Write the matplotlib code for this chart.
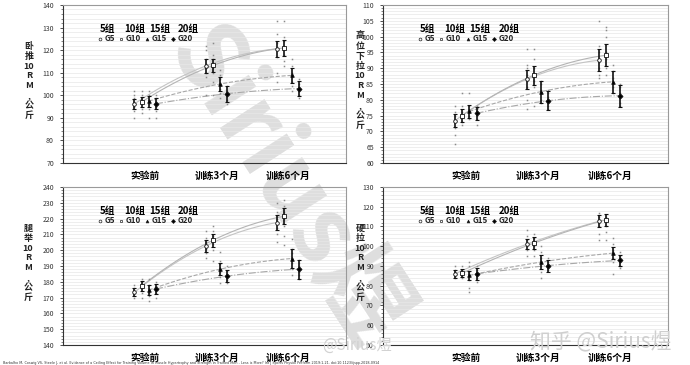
import numpy as np
import matplotlib
matplotlib.use("Agg")
import matplotlib.pyplot as plt
from matplotlib.ticker import MultipleLocator

plt.rcParams['font.family'] = ['Noto Sans CJK SC', 'DejaVu Sans']

categories = ["实验前", "训练3个月", "训练6个月"]
groups = ["G5", "G10", "G15", "G20"]
group_titles = ["5组", "10组", "15组", "20组"]

# ---- Panel 1: 卧推 (bench press) ----
bench_means = {"G5": [96.2, 113.0, 120.6], "G10": [97.0, 113.2, 121.0],
               "G15": [97.4, 105.0, 108.8], "G20": [96.2, 100.7, 103.0]}
bench_err = {"G5": [2.3, 3.0, 3.5], "G10": [2.3, 3.0, 3.5],
             "G15": [2.5, 3.0, 3.5], "G20": [2.5, 3.5, 3.5]}
bench_ind = {
    "G5": [[90, 93, 95, 97, 99, 100, 102], [100, 108, 110, 112, 114, 116, 120, 122], [106, 110, 117, 120, 123, 127, 133]],
    "G10": [[92, 94, 96, 98, 100, 102], [100, 106, 110, 112, 114, 116, 118, 123], [113, 115, 118, 121, 124, 126, 133]],
    "G15": [[90, 94, 96, 98, 100, 102], [99, 101, 103, 105, 107, 109, 111], [102, 104, 106, 108, 110, 113, 116]],
    "G20": [[90, 93, 95, 97, 99, 100], [96, 98, 100, 101, 102, 104], [99, 100, 102, 103, 105, 107]],
}

# ---- Panel 2: 高位下拉 (lat pulldown) ----
pull_means = {"G5": [73.4, 86.5, 92.5], "G10": [75.0, 87.8, 94.1],
              "G15": [76.3, 82.6, 85.7], "G20": [75.7, 79.7, 81.3]}
pull_err = {"G5": [2.0, 3.0, 3.5], "G10": [2.0, 3.0, 3.5],
            "G15": [2.0, 3.5, 3.5], "G20": [2.0, 3.0, 3.5]}
pull_ind = {
    "G5": [[66, 69, 71, 73, 75, 76, 78], [77, 80, 84, 86, 88, 90, 91, 96], [87, 88, 90, 92, 95, 97, 105]],
    "G10": [[72, 73, 75, 76, 78, 82], [78, 84, 86, 88, 90, 93, 96], [88, 90, 93, 95, 100, 102, 103]],
    "G15": [[74, 75, 76, 77, 78, 82], [79, 80, 82, 83, 85, 86], [82, 84, 85, 87, 89, 91]],
    "G20": [[72, 74, 75, 77, 78], [77, 78, 79, 81, 82, 83], [78, 79, 81, 82, 84, 85]],
}

# ---- Panel 3: 腿举 (leg press) ----
leg_means = {"G5": [173.3, 202.7, 217.5], "G10": [177.3, 206.3, 221.5],
             "G15": [174.7, 188.0, 194.7], "G20": [175.4, 183.6, 188.0]}
leg_err = {"G5": [2.5, 4.0, 5.0], "G10": [3.0, 4.0, 5.0],
           "G15": [3.0, 4.0, 6.0], "G20": [3.0, 4.0, 6.0]}
leg_ind = {
    "G5": [[170, 172, 174, 176, 178], [195, 198, 201, 203, 205, 208, 212], [205, 210, 214, 217, 220, 224, 230]],
    "G10": [[170, 173, 176, 178, 180, 182], [193, 200, 204, 207, 209, 212, 215], [203, 209, 215, 220, 224, 228, 232]],
    "G15": [[168, 171, 173, 175, 178, 182], [179, 183, 186, 188, 191, 193, 199], [184, 188, 192, 195, 198, 201, 207]],
    "G20": [[170, 173, 175, 177, 180], [179, 181, 183, 185, 187, 190], [182, 184, 186, 188, 190, 192, 194]],
}

# ---- Panel 4: 硬拉 (deadlift) ----
dl_means = {"G5": [86.0, 101.0, 112.6], "G10": [86.3, 101.6, 113.4],
            "G15": [85.2, 92.0, 96.5], "G20": [86.0, 90.2, 92.8]}
dl_err = {"G5": [2.0, 2.5, 3.0], "G10": [2.0, 3.0, 3.0],
          "G15": [2.5, 3.5, 3.0], "G20": [3.0, 3.0, 3.0]}
dl_ind = {
    "G5": [[84, 85, 86, 87, 88, 90], [95, 98, 100, 101, 103, 105, 108], [103, 106, 110, 112, 115, 117]],
    "G10": [[84, 85, 86, 87, 88, 90], [95, 98, 100, 102, 104, 106], [103, 107, 110, 113, 115]],
    "G15": [[77, 79, 83, 85, 87, 90, 92], [84, 87, 90, 92, 94, 97, 100], [86, 92, 94, 96, 98, 101, 104]],
    "G20": [[82, 84, 86, 88, 90], [88, 89, 90, 91, 92, 94], [89, 90, 92, 93, 95, 97]],
}

panels = [
    dict(label=["卧", "推", "10", "R", "M", ",", "公", "斤"], means=bench_means, err=bench_err, ind=bench_ind,
         ylim=(70, 140), major=10, rect=[0.0913, 0.5534, 0.410, 0.433], lx=29),
    dict(label=["高", "位", "下", "拉", "10", "R", "M", ",", "公", "斤"], means=pull_means, err=pull_err, ind=pull_ind,
         ylim=(60, 110), major=5, rect=[0.555, 0.5534, 0.413, 0.433], lx=360),
    dict(label=["腿", "举", "10", "R", "M", ",", "公", "斤"], means=leg_means, err=leg_err, ind=leg_ind,
         ylim=(140, 240), major=10, rect=[0.0913, 0.0548, 0.410, 0.433], lx=28),
    dict(label=["硬", "拉", "10", "R", "M", ",", "公", "斤"], means=dl_means, err=dl_err, ind=dl_ind,
         ylim=(50, 130), major=10, rect=[0.555, 0.0548, 0.413, 0.433], lx=360),
]

offsets = {"G5": -0.15, "G10": -0.05, "G15": 0.05, "G20": 0.15}
markers = {"G5": ("o", "white"), "G10": ("s", "white"), "G15": ("^", "black"), "G20": ("D", "black")}
linestyles = {"G5": ("-", "#c4c4c4"), "G10": ("-", "#b4b4b4"), "G15": ("--", "#a8a8a8"), "G20": ("-.", "#a8a8a8")}

W, H = 690, 365
fig = plt.figure(figsize=(W / 100, H / 100), dpi=100)

for p in panels:
    ax = fig.add_axes(p["rect"])
    ax.patch.set_alpha(0.0)
    xc = np.arange(len(categories))
    for g in groups:
        xs = xc + offsets[g]
        m = np.array(p["means"][g])
        coef = np.polyfit(xs, m, 2)
        xx = np.linspace(xs[0], xs[-1], 60)
        ls, lc = linestyles[g]
        ax.plot(xx, np.polyval(coef, xx), ls=ls, color=lc, lw=0.8, zorder=2)
        for i in range(len(categories)):
            vals = p["ind"][g][i]
            ax.plot([xs[i]] * len(vals), vals, ls="none", marker="s", ms=1.1,
                    color="#8a8a8a", mec="none", zorder=3)
        mk, fc = markers[g]
        ax.errorbar(xs, m, yerr=p["err"][g], fmt="none", ecolor="#111111",
                    elinewidth=1.2, capsize=1.5, capthick=0.8, zorder=4)
        ax.plot(xs, m, ls="none", marker=mk, ms=2.6, mfc=fc, mec="#111111", mew=0.6, zorder=5)

    ax.set_xlim(-1.15, 2.81)
    ax.set_ylim(*p["ylim"])
    ax.set_xticks(xc)
    ax.set_xticklabels(categories, fontsize=7, fontweight="bold")
    ax.tick_params(axis="x", length=0, pad=6)
    ax.yaxis.set_major_locator(MultipleLocator(p["major"]))
    ax.yaxis.set_minor_locator(MultipleLocator(p["major"] / 5))
    ax.tick_params(axis="y", which="major", labelsize=5, length=2.5, width=0.6,
                   colors="#333333", pad=4)
    ax.tick_params(axis="y", which="minor", length=1.5, width=0.5, color="#555555")
    ax.grid(axis="y", which="both", color="#e8e8e8", lw=0.5, zorder=0)
    ax.set_axisbelow(True)
    for side in ["top", "right"]:
        ax.spines[side].set_color("#9a9a9a")
        ax.spines[side].set_linewidth(0.8)
    for side in ["left", "bottom"]:
        ax.spines[side].set_color("#333333")
        ax.spines[side].set_linewidth(0.8)

    # legend-like header
    tx_title = [0.13, 0.216, 0.304, 0.406]
    tx_mark = [0.127, 0.201, 0.293, 0.385]
    for i, g in enumerate(groups):
        ax.text(tx_title[i], 0.848, group_titles[i], transform=ax.transAxes,
                fontsize=7, fontweight="bold", ha="left", va="center", zorder=6)
        mk, fc = markers[g]
        ax.plot([tx_mark[i] + 0.004], [0.785], transform=ax.transAxes, marker=mk, ms=2.0, mfc=fc,
                mec="#222222", mew=0.5, ls="none", clip_on=False, zorder=6)
        ax.text(tx_mark[i] + 0.02, 0.785, g, transform=ax.transAxes, fontsize=5.8,
                fontweight="bold", ha="left", va="center", color="#222222", zorder=6)

    bx, by, bw, bh = p["rect"]
    fig.text(p["lx"] / W, by + bh * 0.52, "\n".join(p["label"]), ha="center", va="center",
             fontsize=6.5, linespacing=1.12, fontweight="bold", color="#222222")

# citation
cite = ("Barbalho M, Coswig VS, Steele J, et al. Evidence of a Ceiling Effect for Training Volume in "
        "Muscle Hypertrophy and Strength in Trained Men - Less is More? Int J Sports Physiol Perform "
        "2019:1-21. doi:10.1123/ijspp.2018-0914")
t = fig.text(3 / W, 1 - 363 / H, cite, fontsize=3, ha="left", va="center",
             family="DejaVu Sans", color="#333333")
fig.canvas.draw()
wpx = t.get_window_extent().width
t.set_fontsize(3 * 375 / wpx)

# watermarks (drawn behind the plotted data)
fig.text(0.415, 0.49, "Sirius煜", fontsize=68, fontweight="bold", rotation=-57,
         ha="center", va="center", color="#dedede", zorder=-1)
fig.text(601 / W, 1 - 342 / H, "知乎 @Sirius煜", fontsize=15, ha="center", va="center",
         color="#cfcfcf", zorder=10)
fig.text(357 / W, 1 - 345 / H, "@Sirius煜", fontsize=11, ha="center", va="center",
         color="#d2d2d2", zorder=10)

fig.savefig("out.png", dpi=100, facecolor="white")
